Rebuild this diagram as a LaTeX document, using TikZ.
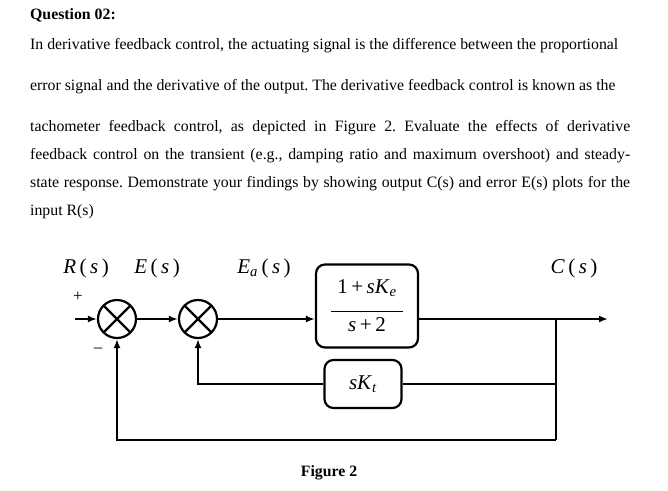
\documentclass[tikz,border=0pt]{standalone}
\usepackage{fontspec}
\setmainfont{Liberation Serif}
\frenchspacing
\usetikzlibrary{arrows.meta}
\tikzset{
  txt/.style={anchor=west,inner sep=0pt,font=\fontsize{15.8}{17}\selectfont},
  lab/.style={inner sep=0pt,font=\fontsize{21}{23}\selectfont},
  sumj/.style={circle,draw,line width=2.2pt,minimum size=38pt,inner sep=0pt,path picture={\draw[line width=2.2pt] (path picture bounding box.north west)--(path picture bounding box.south east) (path picture bounding box.north east)--(path picture bounding box.south west);}},
  blk/.style={draw,line width=2.2pt,rounded corners=9pt},
  wire/.style={line width=2.2pt},
  arr/.style={line width=2.2pt,-{Latex[length=9pt,width=7pt]}}
}
\begin{document}
\begin{tikzpicture}[x=1pt,y=-1pt]
\useasboundingbox (0,0) rectangle (668,490);
\node[txt,font=\fontsize{15.8}{17}\selectfont\bfseries] (q) at (30,15) {Question 02:};
\node[txt] (l1) at (30,46) {In derivative feedback control, the actuating signal is the difference between the proportional};
\node[txt] (l2) at (30,87) {error signal and the derivative of the output. The derivative feedback control is known as the};
\node[txt] (l3) at (30,128) {\makebox[600pt][s]{tachometer feedback control, as depicted in Figure 2. Evaluate the effects of derivative}};
\node[txt] (l4) at (30,156) {\makebox[600pt][s]{feedback control on the transient (e.g., damping ratio and maximum overshoot) and steady-}};
\node[txt] (l5) at (30,184) {\makebox[600pt][s]{state response. Demonstrate your findings by showing output C(s) and error E(s) plots for the}};
\node[txt] (l6) at (30,212) {input R(s)};

\node[sumj] (s1) at (117,319) {};
\node[sumj] (s2) at (198,319) {};
\node[blk,minimum width=102pt,minimum height=83pt] (g) at (367,306) {};
\node[lab,align=center,font=\fontsize{21}{23}\selectfont] (gt) at (367,306) {1\,+\,\textit{sK}\textsubscript{\textit{e}}\\[-5pt]\rule{72pt}{0.9pt}\\[-3pt]\textit{s}\,+\,2};
\node[blk,minimum width=77pt,minimum height=48pt] (h) at (363,384) {\fontsize{21}{23}\selectfont\textit{sK}\textsubscript{\textit{t}}};
\coordinate (in) at (75,319);
\coordinate (out) at (608,319);
\coordinate (br) at (556,319);
\coordinate (b1) at (556,384);
\coordinate (b2) at (556,440);
\draw[arr] (in) -- (s1);
\draw[arr] (s1) -- (s2);
\draw[arr] (s2) -- (g.west|-s2);
\draw[arr] (g.east|-out) -- (out);
\draw[wire] (br) -- (b2);
\draw[wire] (b1) -- (h.east);
\draw[arr] (h.west) -| (s2.south);
\draw[arr] (b2) -| (s1.south);

\node[lab] (rl) at (86,268) {\textit{R}\,(\,\textit{s}\,)};
\node[lab] (el) at (157,268) {\textit{E}\,(\,\textit{s}\,)};
\node[lab] (eal) at (264,268) {\textit{E}\textsubscript{\textit{a}}\,(\,\textit{s}\,)};
\node[lab] (cl) at (574,268) {\textit{C}\,(\,\textit{s}\,)};
\node[lab,font=\fontsize{17}{19}\selectfont] (plus) at (78,297) {+};
\node[lab,font=\fontsize{17}{19}\selectfont] (minus) at (98,350) {\textendash};
\node[txt,anchor=center,font=\fontsize{15.8}{17}\selectfont\bfseries] (fig) at (329,473) {Figure 2};
\end{tikzpicture}
\end{document}
